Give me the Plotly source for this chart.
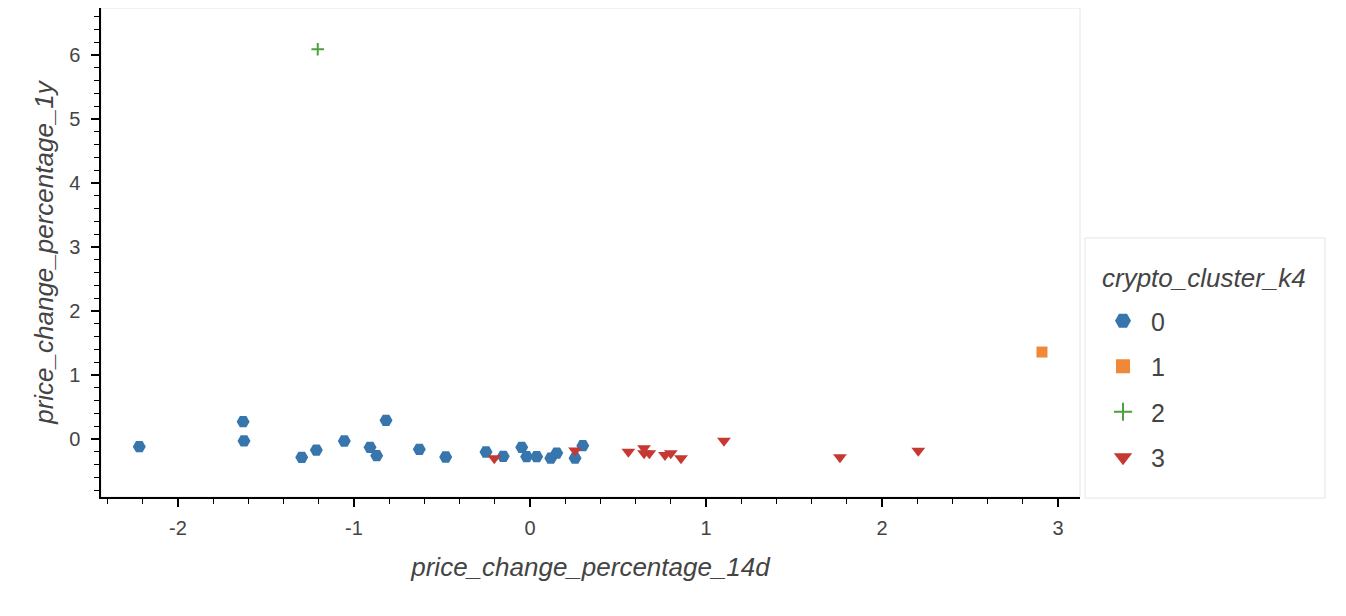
import plotly.graph_objects as go

# cluster 0
c0_x = [-2.22, -1.63, -1.625, -1.297, -1.214, -1.055, -0.909, -0.871, -0.818, -0.629, -0.479,
        -0.25, -0.152, -0.047, -0.019, 0.038, 0.118, 0.152, 0.256, 0.30]
c0_y = [-0.12, 0.27, -0.03, -0.286, -0.172, -0.031, -0.13, -0.26, 0.292, -0.161, -0.281,
        -0.203, -0.27, -0.13, -0.277, -0.277, -0.30, -0.22, -0.30, -0.105]
# cluster 1
c1_x = [2.909]
c1_y = [1.359]
# cluster 2
c2_x = [-1.206]
c2_y = [6.089]
# cluster 3
c3_x = [-0.203, 0.256, 0.559, 0.648, 0.648, 0.678, 0.767, 0.80, 0.858, 1.102, 1.761, 2.206]
c3_y = [-0.30, -0.18, -0.198, -0.145, -0.223, -0.223, -0.25, -0.223, -0.30, -0.027, -0.286, -0.183]

clusters = ["0", "1", "2", "3"]
x_ticks = [-2, -1, 0, 1, 2, 3]
x_tick_labels = ["-2", "-1", "0", "1", "2", "3"]
y_ticks = [0, 1, 2, 3, 4, 5, 6]
y_tick_labels = ["0", "1", "2", "3", "4", "5", "6"]

xs = [c0_x, c1_x, c2_x, c3_x]
ys = [c0_y, c1_y, c2_y, c3_y]
colors = ["#3776ad", "#f0883a", "#4da03f", "#c63932"]
symbols = ["hexagon2", "square", "cross-thin", "triangle-down"]
sizes = [13, 11, 9, 12]
legend_sizes = [16, 14, 13, 16]

FONT = "Liberation Sans, Arial, Helvetica, sans-serif"
TXT = "#444444"

# page body has an 8px margin: figure coords = page coords - 8
OFF = 8
W, H = 1346 - OFF, 616 - OFF
PL, PR, PT, PB = 101 - OFF, 1080 - OFF, 8 - OFF, 497 - OFF
PW, PH = PR - PL, PB - PT


def px_x(p):
    return (p - OFF - PL) / PW


def px_y(p):
    return (PB - (p - OFF)) / PH


fig = go.Figure()
for name, x, y, col, sym, sz, lsz in zip(clusters, xs, ys, colors, symbols, sizes, legend_sizes):
    line = dict(width=2, color=col) if sym == "cross-thin" else dict(width=0, color=col)
    fig.add_trace(go.Scatter(x=x, y=y, mode="markers", name=name, legendgroup=name,
                             showlegend=False,
                             marker=dict(color=col, symbol=sym, size=sz, line=line)))
    fig.add_trace(go.Scatter(x=[None], y=[None], mode="markers", name=name, legendgroup=name,
                             showlegend=True,
                             marker=dict(color=col, symbol=sym, size=lsz, line=line)))

axis_common = dict(
    showgrid=False, zeroline=False, showline=True, linecolor="black", linewidth=1.5,
    ticks="outside", ticklen=8, tickwidth=1.5, tickcolor="black",
    tickfont=dict(family=FONT, size=20, color=TXT),
    minor=dict(ticks="outside", ticklen=5, tickwidth=1.2, tickcolor="black", dtick=0.2),
    automargin=False,
)

fig.update_xaxes(**axis_common, range=[-2.4375, 3.125], tickmode="array",
                 tickvals=x_ticks, ticktext=x_tick_labels, ticklabelstandoff=4,
                 title=dict(text="<i>price_change_percentage_14d</i>",
                            font=dict(family=FONT, size=26, color=TXT), standoff=20))
fig.update_yaxes(**axis_common, range=[-0.906, 6.734], tickmode="array",
                 tickvals=y_ticks, ticktext=y_tick_labels, ticklabelstandoff=7,
                 title=dict(text="<i>price_change_percentage_1y</i>",
                            font=dict(family=FONT, size=26, color=TXT), standoff=8))

# plot frame
fig.add_shape(type="rect", xref="paper", yref="paper", x0=0, y0=0, x1=1, y1=1,
              line=dict(color="#e5e5e5", width=1), layer="below")

# legend frame and title
fig.add_shape(type="rect", xref="paper", yref="paper",
              x0=px_x(1085), x1=px_x(1325), y0=px_y(498), y1=px_y(238),
              line=dict(color="#e5e5e5", width=1), fillcolor="rgba(0,0,0,0)")
fig.add_annotation(text="<i>crypto_cluster_k4</i>", xref="paper", yref="paper",
                   x=px_x(1100), y=px_y(278), xanchor="left", yanchor="middle",
                   showarrow=False, font=dict(family=FONT, size=26, color=TXT))

fig.update_layout(
    width=W, height=H,
    margin=dict(l=PL, r=W - PR, t=PT, b=H - PB),
    plot_bgcolor="white", paper_bgcolor="white",
    font=dict(family=FONT, color=TXT),
    legend=dict(
        font=dict(family=FONT, size=25, color=TXT),
        x=px_x(1095), y=px_y(298), xanchor="left", yanchor="top",
        borderwidth=0, bgcolor="rgba(0,0,0,0)", tracegroupgap=10,
        itemsizing="trace", itemwidth=46,
    ),
)

fig.write_html("out.html")
